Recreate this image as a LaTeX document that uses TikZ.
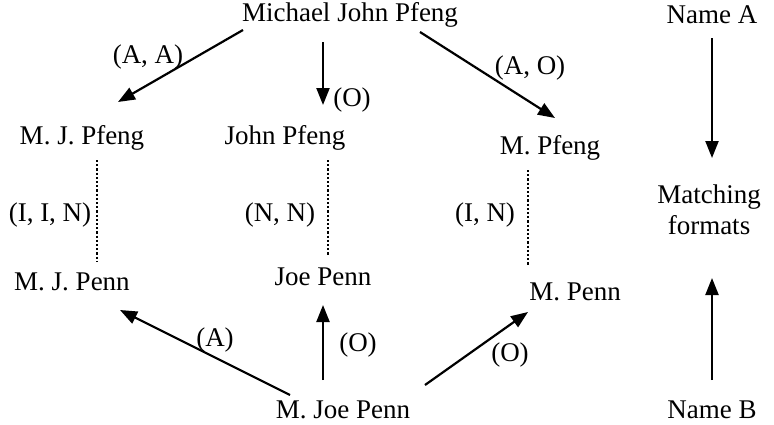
\documentclass[tikz,border=0pt]{standalone}
\usepackage{fontspec}
\setmainfont{Liberation Serif}
\usetikzlibrary{arrows.meta}
\begin{document}
\begin{tikzpicture}[x=1pt,y=-1pt,
  lbl/.style={font=\fontsize{27}{31}\selectfont,inner sep=0pt},
  arr/.style={line width=2.2pt,-{Triangle[length=17pt,width=13pt]}},
  dot/.style={line width=2.2pt,dotted}]
\useasboundingbox (0,0) rectangle (774,424);
\node[lbl] (mjp) at (350,15) {Michael John Pfeng};
\node[lbl] (mjpf) at (82,138) {M. J. Pfeng};
\node[lbl] (jp) at (285,138) {John Pfeng};
\node[lbl] (mp) at (550,148) {M. Pfeng};
\node[lbl] (mjpn) at (72,282) {M. J. Penn};
\node[lbl] (jpn) at (323,277) {Joe Penn};
\node[lbl] (mpn) at (575,292) {M. Penn};
\node[lbl] (mjoe) at (343,410) {M. Joe Penn};
\node[lbl] (na) at (712,15) {Name A};
\node[lbl,align=center] (mf) at (709,210) {Matching\\formats};
\node[lbl] (nb) at (712,410) {Name B};
\coordinate (a1s) at (243,30); \coordinate (a1e) at (118,102);
\coordinate (a2s) at (323,42); \coordinate (a2e) at (323,105);
\coordinate (a3s) at (420,32); \coordinate (a3e) at (555,118);
\coordinate (b1s) at (290,395); \coordinate (b1e) at (120,310);
\coordinate (b2s) at (323,380); \coordinate (b2e) at (323,305);
\coordinate (b3s) at (425,385); \coordinate (b3e) at (528,312);
\coordinate (nas) at (712,38); \coordinate (nae) at (712,158);
\coordinate (nbs) at (712,380); \coordinate (nbe) at (712,278);
\draw[arr] (a1s) -- (a1e);
\draw[arr] (a2s) -- (a2e);
\draw[arr] (a3s) -- (a3e);
\draw[arr] (b1s) -- (b1e);
\draw[arr] (b2s) -- (b2e);
\draw[arr] (b3s) -- (b3e);
\draw[arr] (nas) -- (nae);
\draw[arr] (nbs) -- (nbe);
\draw[dot] (97,160) -- (97,262);
\draw[dot] (328,160) -- (328,255);
\draw[dot] (528,170) -- (528,265);
\node[lbl] at (148,57) {(A, A)};
\node[lbl] at (352,100) {(O)};
\node[lbl] at (530,68) {(A, O)};
\node[lbl] at (50,215) {(I, I, N)};
\node[lbl] at (280,215) {(N, N)};
\node[lbl] at (485,215) {(I, N)};
\node[lbl] at (215,340) {(A)};
\node[lbl] at (358,345) {(O)};
\node[lbl] at (510,355) {(O)};
\end{tikzpicture}
\end{document}
